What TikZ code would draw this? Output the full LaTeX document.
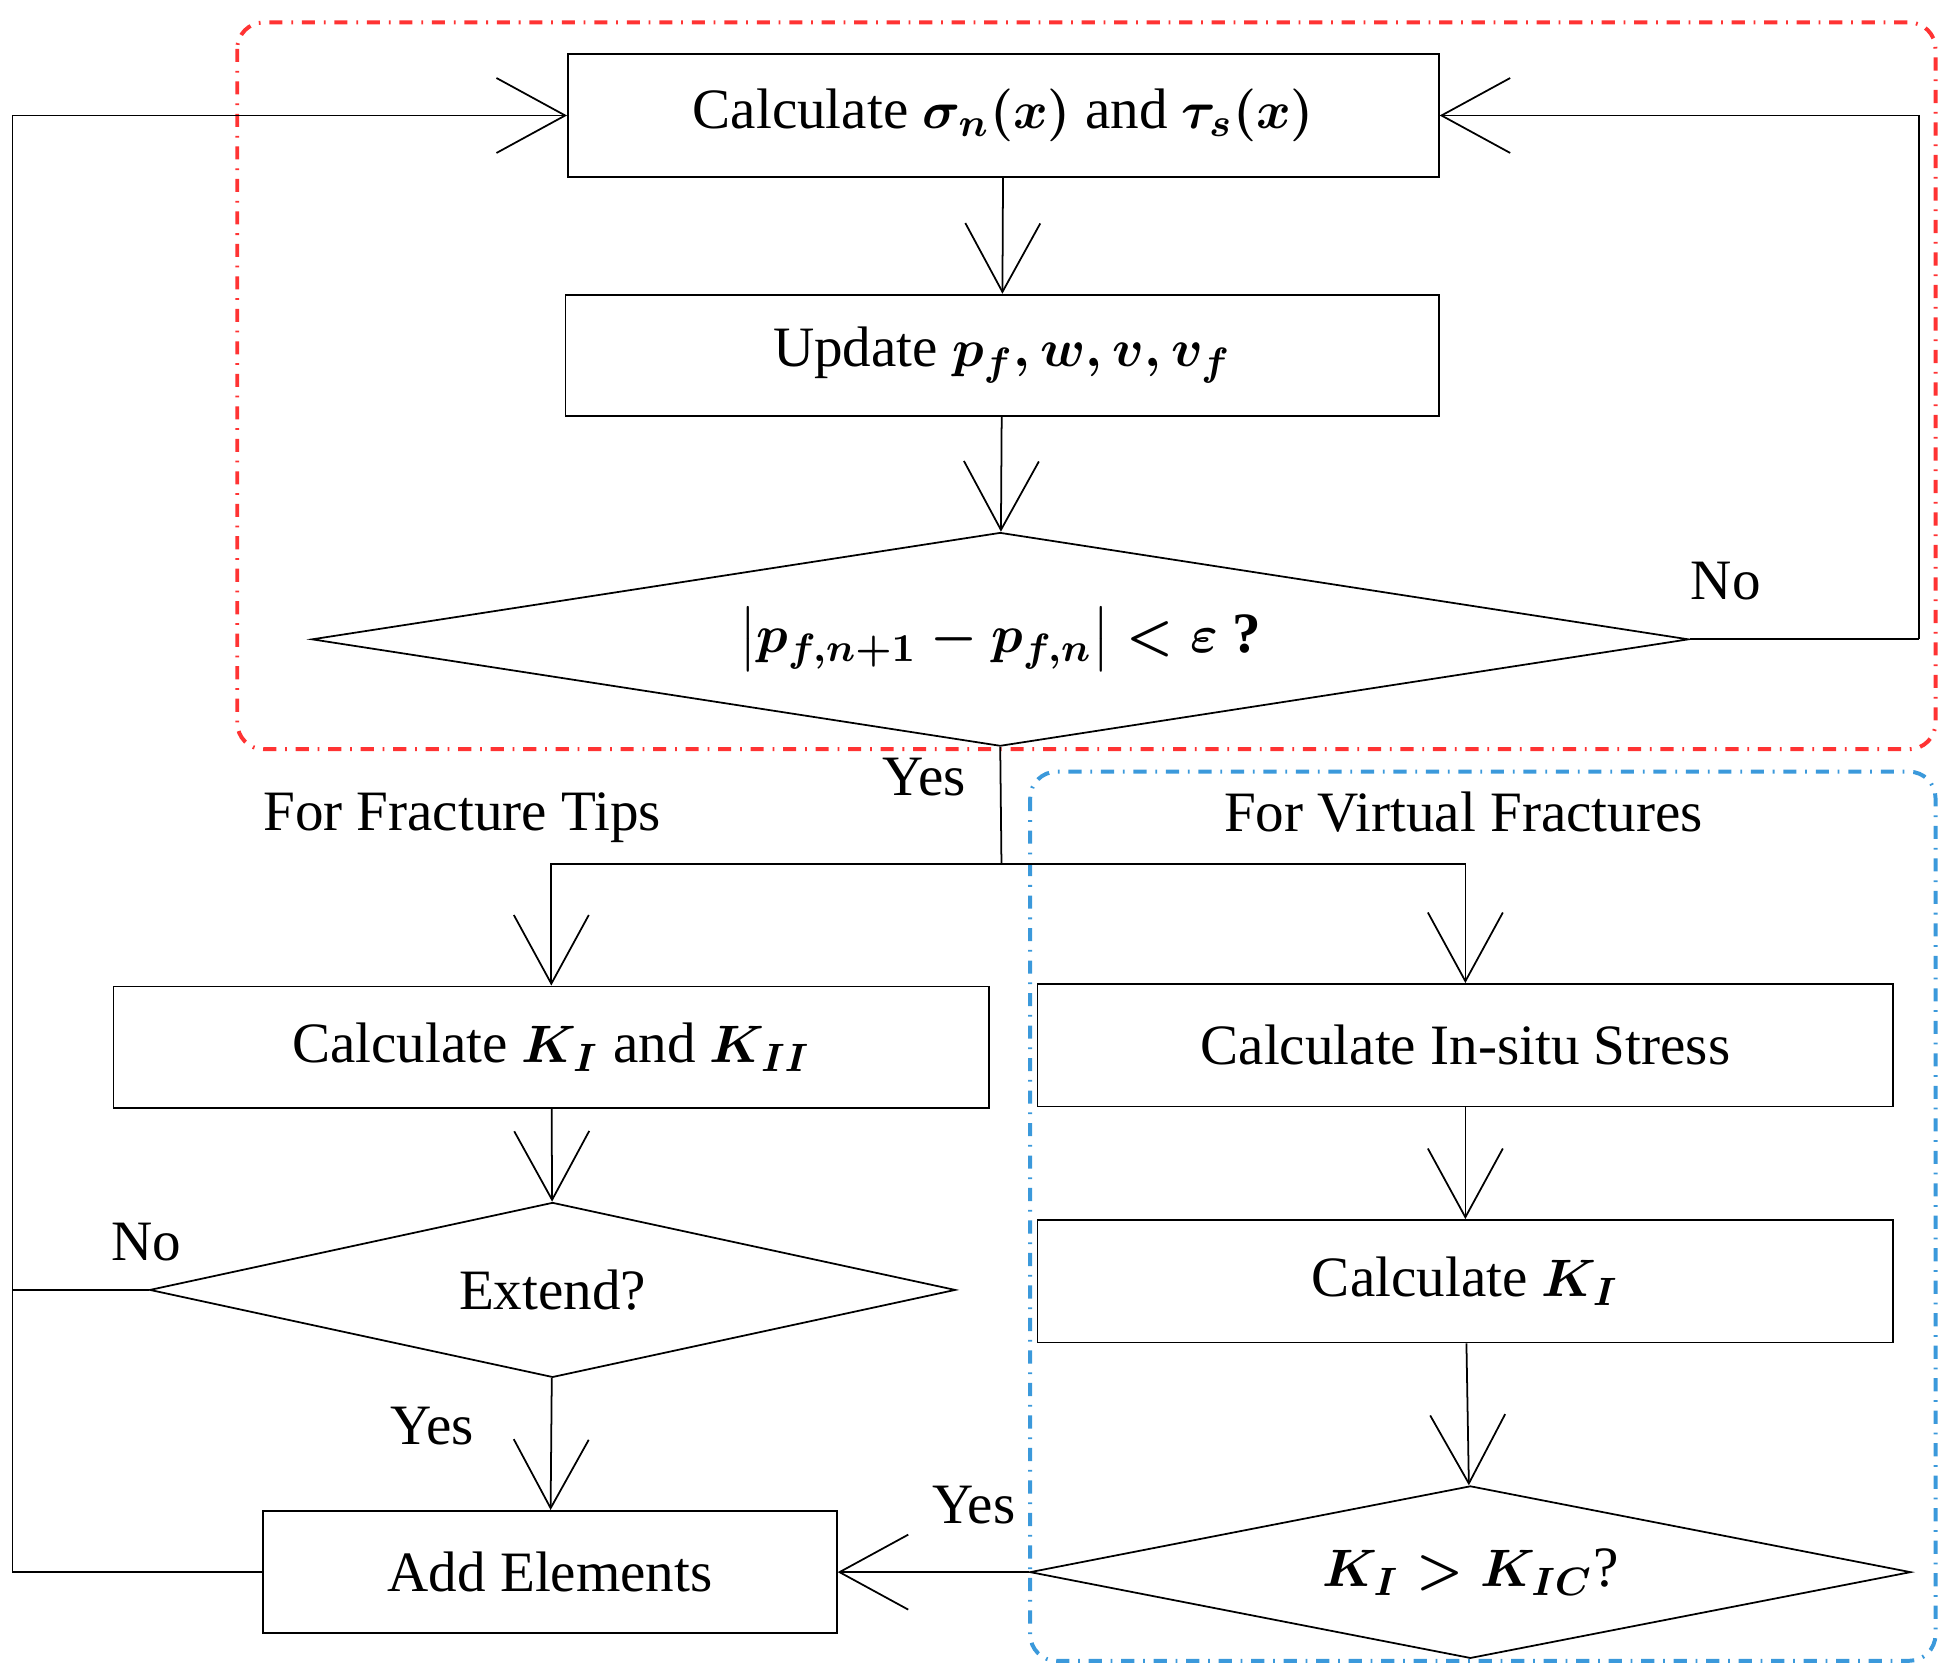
\documentclass[tikz,border=0pt]{standalone}
\usepackage{amsmath}
\usepackage{fontspec}
\setmainfont{Liberation Serif}
\usetikzlibrary{shapes.geometric,arrows.meta}
\begin{document}
\begin{tikzpicture}[x=0.01cm,y=-0.01cm,
	every node/.style={font=\fontsize{13}{15}\selectfont},
	box/.style={rectangle, draw, inner sep=0pt},
	dec/.style={diamond, draw, inner sep=0pt},
	arr/.style={-{Straight Barb[length=5.5mm,width=6mm]}},
	zone/.style={dash dot, rounded corners=6pt, line width=0.9pt}
	]
\useasboundingbox (0,0) rectangle (1560,1340);

\draw[zone, red!80] (190,18) rectangle (1550,600);
\draw[zone, cyan!70!blue!80] (825,618) rectangle (1550,1330);

\node[box, minimum width=6.97cm, minimum height=0.99cm] (calc) at (803.5,92.5) {Calculate $\boldsymbol{\sigma_n(x)}$ and $\boldsymbol{\tau_s(x)}$};
\node[box, minimum width=6.99cm, minimum height=0.97cm] (upd) at (802.5,284.5) {Update $\boldsymbol{p_f, w, v, v_f}$};
\node[dec, aspect=6.44, minimum width=11.02cm, minimum height=1.71cm] (conv) at (801,512) {$\boldsymbol{\left|p_{f,n+1}-p_{f,n}\right|<\varepsilon}$ \textbf{?}};

\node[box, minimum width=7.01cm, minimum height=0.97cm] (kk) at (441.5,838.5) {Calculate $\boldsymbol{K_I}$ and $\boldsymbol{K_{II}}$};
\node[box, minimum width=6.85cm, minimum height=0.98cm] (situ) at (1173.5,837) {Calculate In-situ Stress};
\node[dec, aspect=4.6, minimum width=6.45cm, minimum height=1.40cm] (ext) at (442.5,1033) {Extend?};
\node[box, minimum width=6.85cm, minimum height=0.98cm] (ki) at (1173.5,1026) {Calculate $\boldsymbol{K_I}$};
\node[dec, aspect=5.1, minimum width=7.05cm, minimum height=1.38cm] (kic) at (1177.5,1259) {$\boldsymbol{K_I>K_{IC}}$?};
\node[box, minimum width=4.59cm, minimum height=0.98cm] (add) at (440.5,1259) {Add Elements};

\node (t1) at (370,655) {For Fracture Tips};
\node (t2) at (1172,650) {For Virtual Fractures};
\node (y1) at (740,622) {Yes};
\node (n1) at (1382,465) {No};
\node (n2) at (117,995) {No};
\node (y2) at (346,1142) {Yes};
\node (y3) at (780,1205) {Yes};

\draw[arr] (calc) -- (upd);
\draw[arr] (upd) -- (conv);
\draw (conv.east) -- (1537,512) coordinate (r1);
\draw[arr] (r1) |- (calc.east);
\draw (conv.south) -- (802,692) coordinate (sp);
\draw[arr] (sp) -| (kk.north);
\draw[arr] (sp) -| (situ.north);
\draw[arr] (kk) -- (ext);
\draw[arr] (ext) -- (add);
\draw[arr] (situ) -- (ki);
\draw[arr] (ki) -- (kic);
\draw[arr] (kic.west) -- (add.east);
\draw (ext.west) -- (10,1033);
\draw (add.west) -- (10,1259) coordinate (l1);
\draw[arr] (l1) |- (calc.west);
\end{tikzpicture}
\end{document}
